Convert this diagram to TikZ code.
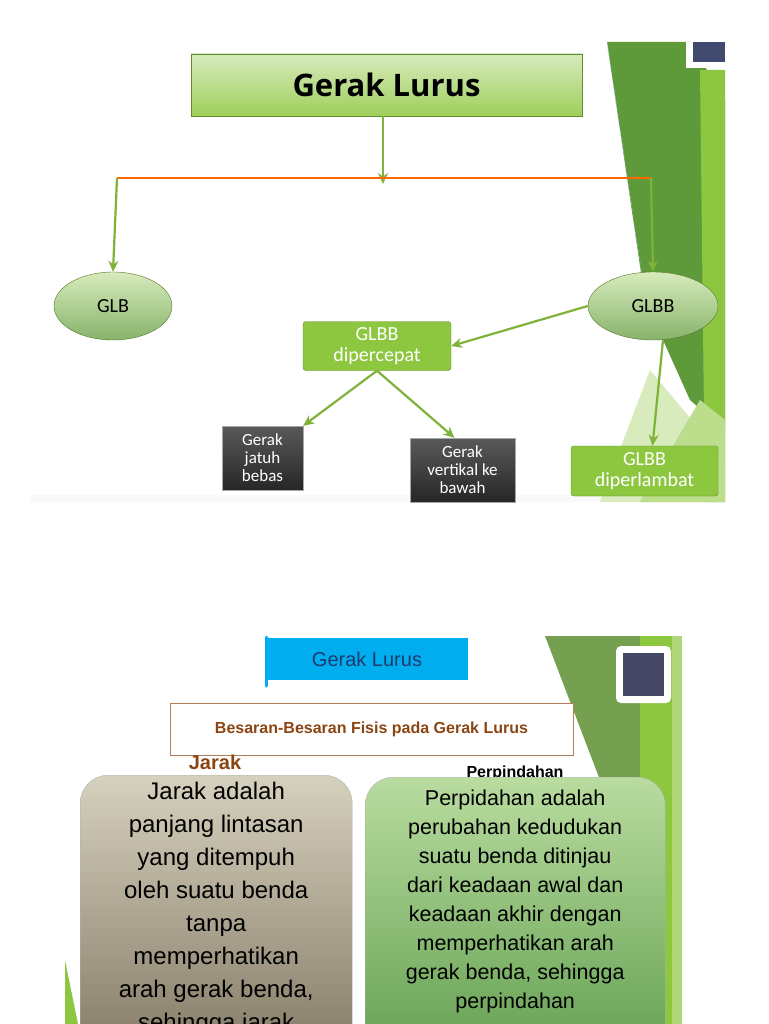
\documentclass[tikz,border=0pt]{standalone}
\usepackage{fontspec}
\setmainfont{Liberation Sans}
\newfontfamily\osans{Open Sans}
\newfontfamily\carl{Carlito}
\usetikzlibrary{arrows.meta,shapes.geometric}
\definecolor{lg}{HTML}{8DC63F}
\definecolor{dg}{HTML}{5F9A3A}
\definecolor{ol}{HTML}{74A050}
\definecolor{br}{HTML}{8B4513}
\definecolor{sq}{HTML}{3F4A6E}
\definecolor{sqb}{HTML}{454766}
\definecolor{cy}{HTML}{00AEEF}
\definecolor{nb}{HTML}{1F3B6E}
\definecolor{tanA}{HTML}{D6D0BE}
\definecolor{tanB}{HTML}{7F7560}
\definecolor{grA}{HTML}{B9DCA0}
\definecolor{grB}{HTML}{5E9C4C}
\tikzset{
 arr/.style={draw=lg!90!black, line width=2.2pt, -{Stealth[length=11pt,width=10pt]}},
 ell/.style={ellipse, draw=lg!60!black, top color=lg!35, bottom color=dg!75, font=\carl\fontsize{20}{20}\selectfont},
 gbox/.style={rounded corners=3pt, draw=lg!70!black, fill=lg, text=white, align=center, font=\carl\fontsize{20}{21}\selectfont},
 graybox/.style={draw=gray!70, top color=gray!70!black, bottom color=black!85, text=white!90, align=center, font=\carl\fontsize{17}{18}\selectfont, inner sep=1pt},
 body/.style={align=center, anchor=north, font=\fontsize{24}{33}\selectfont}
}
\begin{document}
\begin{tikzpicture}[x=1pt,y=-1pt]
\useasboundingbox (0,0) rectangle (768,1024);
\fill[white] (0,0) rectangle (768,1024);
\begin{scope}
\clip (0,0) rectangle (768,1024);
% ---- top slide background
\fill[gray!5] (30,495) rectangle (725,502);
\fill[lg!35] (600,502) -- (650,370) -- (725,460) -- (725,502) -- cycle;
\fill[dg] (607,42) -- (690,42) -- (725,100) -- (725,430) -- (690,400) -- (645,300) -- cycle;
\fill[lg] (700,70) -- (725,70) -- (725,502) -- (705,502) -- cycle;
\fill[lg!60] (640,502) -- (700,400) -- (725,420) -- (725,502) -- cycle;
\draw[blue!25, thin, dashed] (607,42) -- (650,330);
\fill[white] (686,42) rectangle (725,68);
\fill[sq] (693,42) rectangle (725,62);
% ---- top diagram
\node[draw=lg!70!black, top color=lg!35, bottom color=lg!85, minimum width=391pt, minimum height=62pt, font=\osans\bfseries\fontsize{31}{31}\selectfont] (title) at (386.5,85) {Gerak Lurus};
\coordinate (t1) at (383,178);
\coordinate (tl) at (117,178);
\coordinate (tr) at (651,178);
\node[ell, minimum width=118pt, minimum height=68pt] (glb) at (113,306) {GLB};
\node[ell, minimum width=130pt, minimum height=68pt] (glbb) at (653,306) {GLBB};
\node[gbox, minimum width=148pt, minimum height=49pt] (cep) at (377,346) {GLBB\\dipercepat};
\node[gbox, minimum width=147pt, minimum height=50pt] (lam) at (644.5,471) {GLBB\\diperlambat};
\node[graybox, minimum width=81pt, minimum height=64pt] (jat) at (262.5,458) {Gerak\\jatuh\\bebas};
\node[graybox, minimum width=105pt, minimum height=64pt] (ver) at (462.5,470) {Gerak\\vertikal ke\\bawah};
\draw[arr] (title.south -| t1) -- ([yshift=-6pt]t1);
\draw[draw=orange!80!red, line width=2pt] (tl) -- (tr);
\draw[arr] (tl) -- (glb.north);
\draw[arr] (tr) -- (glbb.north);
\draw[arr] (glbb.west) -- (cep.east);
\draw[arr] ([xshift=10pt]glbb.south) -- ([xshift=8pt]lam.north);
\draw[arr] (cep.south) -- (jat.north east);
\draw[arr] (cep.south) -- ([xshift=-8pt]ver.north);
% ---- bottom slide background
\fill[white] (65,636) rectangle (682,1024);
\fill[ol] (545,636) -- (640,636) -- (640,1024) -- (610,1024) -- (600,780) -- cycle;
\fill[lg] (640,636) rectangle (682,1024);
\fill[lg!70!white] (672,636) rectangle (682,1024);
\fill[lg] (65,960) -- (78,1024) -- (65,1024) -- cycle;
\fill[white, rounded corners=5pt] (616,646) rectangle (671,703);
\fill[sqb] (623,653) rectangle (664,696);
% ---- bottom content
\node[fill=cy, minimum width=202pt, minimum height=42pt, text=nb, font=\fontsize{20}{20}\selectfont, inner sep=0pt] (gl) at (367,659) {Gerak Lurus};
\draw[cy, line width=3pt, line cap=round] (266,637) -- (266,686);
\node[draw=br!70, fill=white, minimum width=403pt, minimum height=52pt, text=br, font=\bfseries\fontsize{16}{16}\selectfont] (bes) at (371.5,729) {Besaran-Besaran Fisis pada Gerak Lurus};
\node[text=br, font=\bfseries\fontsize{20}{20}\selectfont] (jl) at (215,762) {Jarak};
\node[font=\bfseries\fontsize{16}{16}\selectfont] (pl) at (515,773) {Perpindahan};
\node[rounded corners=28pt, draw=gray!60, top color=tanA, bottom color=tanB, minimum width=272pt, minimum height=300pt, anchor=north west] (jbox) at (80,775) {};
\node[rounded corners=28pt, draw=gray!60, top color=grA, bottom color=grB, minimum width=300pt, minimum height=300pt, anchor=north west] (pbox) at (365,777) {};
\node[body] (jt) at ([yshift=-4pt]jbox.north) {Jarak adalah\\panjang lintasan\\yang ditempuh\\oleh suatu benda\\tanpa\\memperhatikan\\arah gerak benda,\\sehingga jarak};
\node[body, font=\fontsize{21.5}{29}\selectfont] (pt) at ([yshift=-9pt]pbox.north) {Perpidahan adalah\\perubahan kedudukan\\suatu benda ditinjau\\dari keadaan awal dan\\keadaan akhir dengan\\memperhatikan arah\\gerak benda, sehingga\\perpindahan};
\end{scope}
\end{tikzpicture}
\end{document}
